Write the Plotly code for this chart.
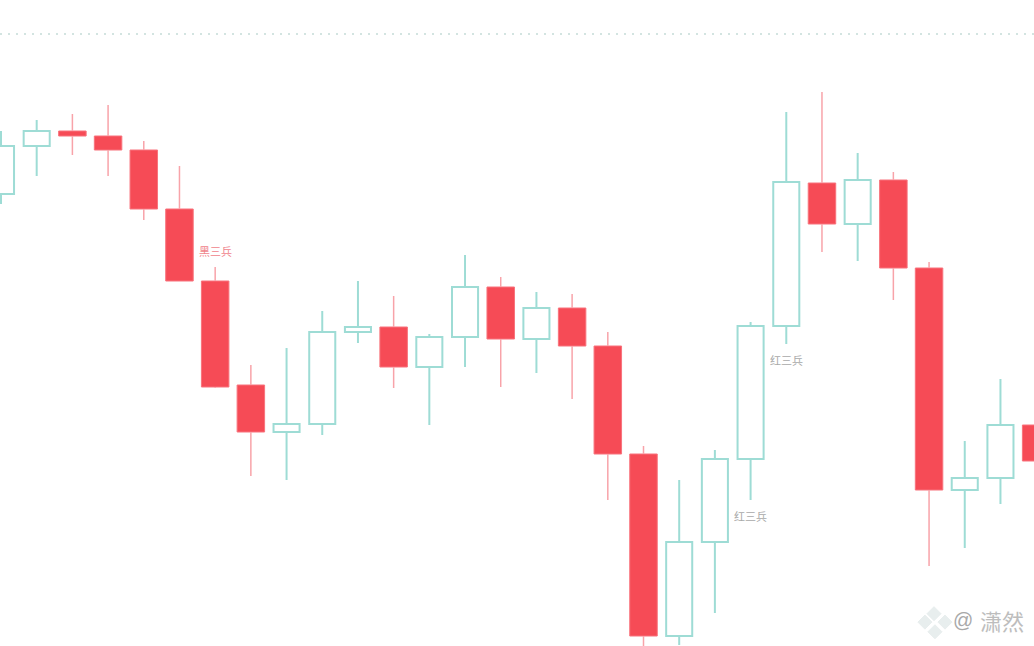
import plotly.graph_objects as go

# Candles, in chart units
candle_idx = list(range(30))
open_px = [452, 500, 515, 510, 496, 437, 365, 261, 214, 222, 314, 319, 279, 309, 359,
           307, 338, 300, 192, 10, 104, 187, 320, 463, 422, 466, 378, 156, 168, 221]
high_px = [515, 526, 532, 541, 505, 480, 379, 281, 298, 335, 365, 350, 312, 391, 369,
           354, 352, 314, 200, 166, 196, 324, 534, 554, 493, 474, 384, 205, 267, 221]
low_px = [442, 470, 491, 470, 426, 365, 258, 170, 166, 211, 303, 258, 221, 279, 259,
          273, 247, 146, 0, 1, 33, 146, 302, 394, 385, 346, 80, 98, 142, 180]
close_px = [500, 515, 510, 496, 437, 365, 259, 214, 222, 314, 319, 279, 309, 359, 307,
            338, 300, 192, 10, 104, 187, 320, 464, 422, 466, 378, 156, 168, 221, 185]

# Pattern labels
label_idx = [6, 22, 21]
label_price = [395, 286, 130]
label_text = ["黑三兵", "红三兵", "红三兵"]
label_color = ["#f0848c", "#a9a9a9", "#a9a9a9"]

GREEN = "#9edcd5"
RED = "#f64b56"
PINK = "#f8a3a9"
CJK = "Noto Sans CJK SC"

fig = go.Figure()

# Split into hollow up candles and solid down candles
up = [i for i in candle_idx if close_px[i] > open_px[i]]
down = [i for i in candle_idx if close_px[i] <= open_px[i]]


def add_candles(idx, body_width, body_line, fill, wick_color, wick_width):
    bottoms = [min(open_px[i], close_px[i]) for i in idx]
    heights = [abs(open_px[i] - close_px[i]) for i in idx]
    fig.add_trace(go.Bar(x=idx, y=heights, base=bottoms, width=body_width,
                         marker=dict(color=fill, line=body_line),
                         showlegend=False, hoverinfo="skip"))
    # wicks stop at the body so hollow candles stay empty
    wx, wy = [], []
    for i in idx:
        wx += [i, i, None, i, i, None]
        wy += [high_px[i], max(open_px[i], close_px[i]), None,
               min(open_px[i], close_px[i]), low_px[i], None]
    fig.add_trace(go.Scatter(x=wx, y=wy, mode="lines",
                             line=dict(color=wick_color, width=wick_width),
                             showlegend=False, hoverinfo="skip"))


add_candles(up, 0.73, dict(color=GREEN, width=2), "#ffffff", GREEN, 2)
add_candles(down, 0.77, dict(color="#f8737c", width=1), RED, PINK, 1.5)

# Pattern labels next to the candles
for i, p, t, c in zip(label_idx, label_price, label_text, label_color):
    fig.add_annotation(x=i, y=p, text=t, showarrow=False,
                       font=dict(family=CJK, size=11, color=c))

# Dotted line at the top
fig.add_shape(type="line", xref="paper", yref="paper", x0=0, x1=1, y0=0.9474, y1=0.9474,
              line=dict(color="#d3e4e1", width=2, dash="2px,6px"))

# Watermark: logo drawn as four little diamonds, then the name
logo = [(0.9033, 0.05), (0.8945, 0.037), (0.9139, 0.037), (0.9042, 0.022)]
for lx, ly in logo:
    dx, dy = 7 / 1034, 7 / 646
    fig.add_shape(type="path", xref="paper", yref="paper", layer="below",
                  path=f"M {lx - dx} {ly} L {lx} {ly + dy} L {lx + dx} {ly} L {lx} {ly - dy} Z",
                  fillcolor="#e8eeee", line=dict(color="#e8eeee", width=1))
fig.add_annotation(xref="paper", yref="paper", x=0.931, y=0.04, text="@", showarrow=False,
                   xanchor="center", yanchor="middle",
                   font=dict(family="Liberation Sans", size=20, color="#a9a9a9"))
fig.add_annotation(xref="paper", yref="paper", x=0.969, y=0.041, text="潇然", showarrow=False,
                   xanchor="center", yanchor="middle",
                   font=dict(family=CJK, size=22, color="#bdbdbd"))

fig.update_layout(
    width=1034, height=646,
    margin=dict(l=0, r=0, t=0, b=0),
    paper_bgcolor="#ffffff",
    plot_bgcolor="#ffffff",
    barmode="overlay",
    xaxis=dict(range=[-0.028, 28.94], visible=False),
    yaxis=dict(range=[0, 646], visible=False),
)

fig.write_html("out.html", config=dict(displayModeBar=False),
               post_script="document.body.style.margin='0';")
